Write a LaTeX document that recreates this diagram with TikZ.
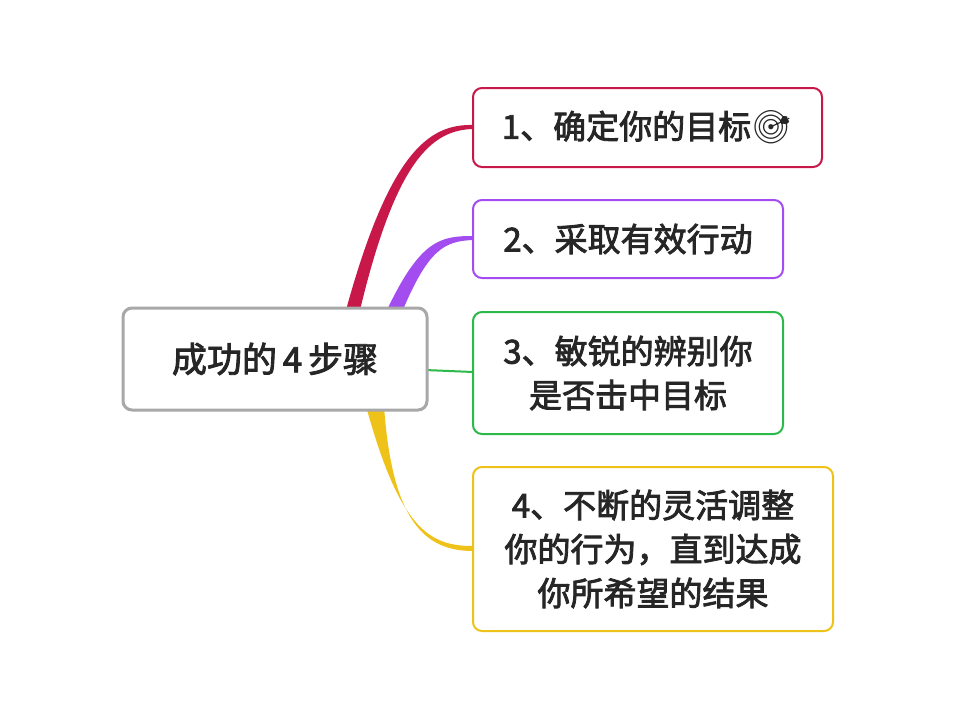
\documentclass[tikz,border=0pt]{standalone}
\usepackage{fontspec}
\newfontfamily\cjk[FakeBold=2.5]{Noto Sans CJK SC}
\newfontfamily\emo{Noto Emoji}
\begin{document}
\begin{tikzpicture}[x=1pt,y=-1pt,
  box/.style={draw, line width=2pt, rounded corners=9pt, fill=white, font=\cjk\fontsize{33}{44}\selectfont, text=black!85, align=center, inner sep=0pt},
  br/.style={line cap=round}]
\useasboundingbox (0,0) rectangle (960,720);
\fill[white] (0,0) rectangle (960,720);
\definecolor{cred}{HTML}{C8184A}
\definecolor{cpur}{HTML}{A34CF0}
\definecolor{cgrn}{HTML}{2DB84A}
\definecolor{cyel}{HTML}{EFC21A}
\definecolor{cgry}{HTML}{A8A8A8}
% branches
\coordinate (g0) at (425,370);
\fill[cred] (346,310) .. controls (390,150) and (430,124) .. (473,125) -- (473,129) .. controls (432,130) and (396,160) .. (360,310) -- cycle;
\fill[cpur] (386,312) .. controls (420,240) and (440,236) .. (473,236) -- (473,240) .. controls (444,241) and (428,250) .. (402,312) -- cycle;
\draw[cgrn, line width=2pt] (g0) -- (473,372);
\fill[cyel] (366,406) .. controls (400,530) and (430,546) .. (473,546) -- (473,551) .. controls (424,551) and (392,520) .. (384,406) -- cycle;
% nodes
\node[box, draw=cgry, line width=3pt, minimum width=304pt, minimum height=102pt, font=\cjk\fontsize{35}{44}\selectfont] (c) at (275,359) {成功的\,4\,步骤};
\node[box, draw=cred, minimum width=349pt, minimum height=79pt] (b1) at (647.5,127.5) {1、确定你的目标{\emo 🎯}};
\node[box, draw=cpur, minimum width=310pt, minimum height=78pt] (b2) at (628,239) {2、采取有效行动};
\node[box, draw=cgrn, minimum width=310pt, minimum height=122pt] (b3) at (628,373) {3、敏锐的辨别你\\是否击中目标};
\node[box, draw=cyel, minimum width=360pt, minimum height=164pt] (b4) at (653,549) {4、不断的灵活调整\\你的行为，直到达成\\你所希望的结果};
\end{tikzpicture}
\end{document}
